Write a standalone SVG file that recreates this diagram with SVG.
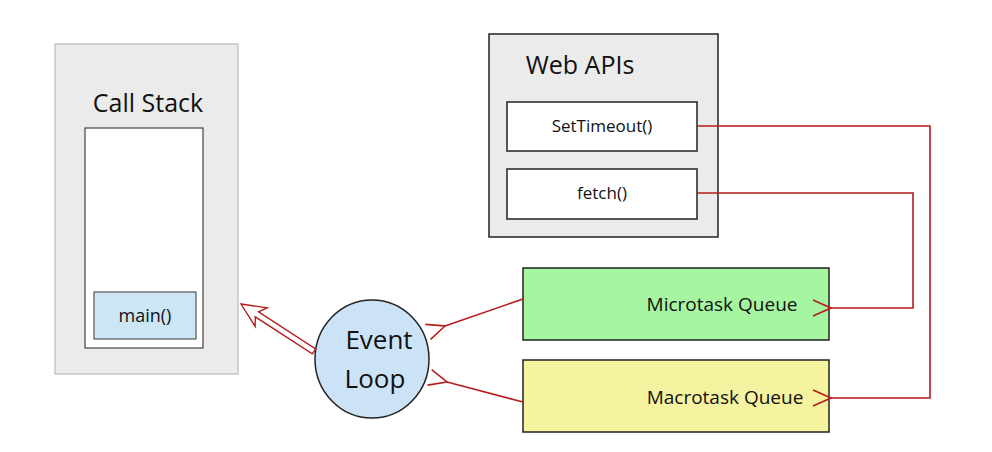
<svg xmlns="http://www.w3.org/2000/svg" width="992" height="452" viewBox="0 0 992 452">
<style>
text{font-family:"Open Sans","Noto Sans",sans-serif;fill:#111}
.c{fill:none;stroke:#b71c1c;stroke-width:1.6}
.b{stroke:#222;stroke-width:1.5}
</style>
<defs>
<marker id="a" viewBox="0 0 20 20" refX="1" refY="10" markerWidth="20" markerHeight="20" markerUnits="userSpaceOnUse" orient="auto">
<path d="M19,2 L1,10 L19,18" fill="none" stroke="#b71c1c" stroke-width="1.6"/>
</marker>
</defs>
<rect width="992" height="452" fill="#fff"/>
<g id="callstack">
<rect x="55" y="44" width="183" height="330" fill="#ebebeb" stroke="#bbb" stroke-width="1.2"/>
<text x="148" y="112" font-size="25" text-anchor="middle">Call Stack</text>
<rect x="85" y="128" width="118" height="220" fill="#fff" stroke="#444" stroke-width="1.2"/>
</g>
<g id="main">
<rect x="94" y="292" width="102" height="47" fill="#cce6f5" stroke="#555" stroke-width="1.2"/>
<text x="145" y="322" font-size="18" text-anchor="middle">main()</text>
</g>
<g id="webapis">
<rect x="489" y="34" width="229" height="203" fill="#ebebeb" class="b"/>
<text x="580" y="74" font-size="25" text-anchor="middle">Web APIs</text>
</g>
<g id="settimeout">
<rect x="507" y="102" width="190" height="49" fill="#fff" class="b"/>
<text x="602" y="132" font-size="17" text-anchor="middle">SetTimeout()</text>
</g>
<g id="fetch">
<rect x="507" y="169" width="190" height="50" fill="#fff" class="b"/>
<text x="602" y="199" font-size="17" text-anchor="middle">fetch()</text>
</g>
<g id="microtask">
<rect x="523" y="268" width="306" height="72" fill="#a6f5a0" class="b"/>
<text x="722" y="311" font-size="19" text-anchor="middle">Microtask Queue</text>
</g>
<g id="macrotask">
<rect x="523" y="360" width="306" height="72" fill="#f5f3a0" class="b"/>
<text x="725" y="404" font-size="19" text-anchor="middle">Macrotask Queue</text>
</g>
<g id="eventloop">
<ellipse cx="372" cy="359" rx="57" ry="59" fill="#cce3f7" class="b"/>
<text x="379" y="349" font-size="26" text-anchor="middle">Event</text>
<text x="375" y="388" font-size="26" text-anchor="middle">Loop</text>
</g>
<g id="connectors">
<polyline class="c" points="697,126 930,126 930,398 831,398" marker-end="url(#a)"/>
<polyline class="c" points="697,193 913,193 913,308 831,308" marker-end="url(#a)"/>
<line class="c" x1="523" y1="299" x2="445" y2="326" marker-end="url(#a)"/>
<line class="c" x1="523" y1="402" x2="447" y2="382" marker-end="url(#a)"/>
<polygon transform="translate(241,304) rotate(33)" points="0,0 24,-11 19,-3 87,-3 87,3 19,3 24,11" fill="#fff" stroke="#b71c1c" stroke-width="1.4"/>
</g>
</svg>
